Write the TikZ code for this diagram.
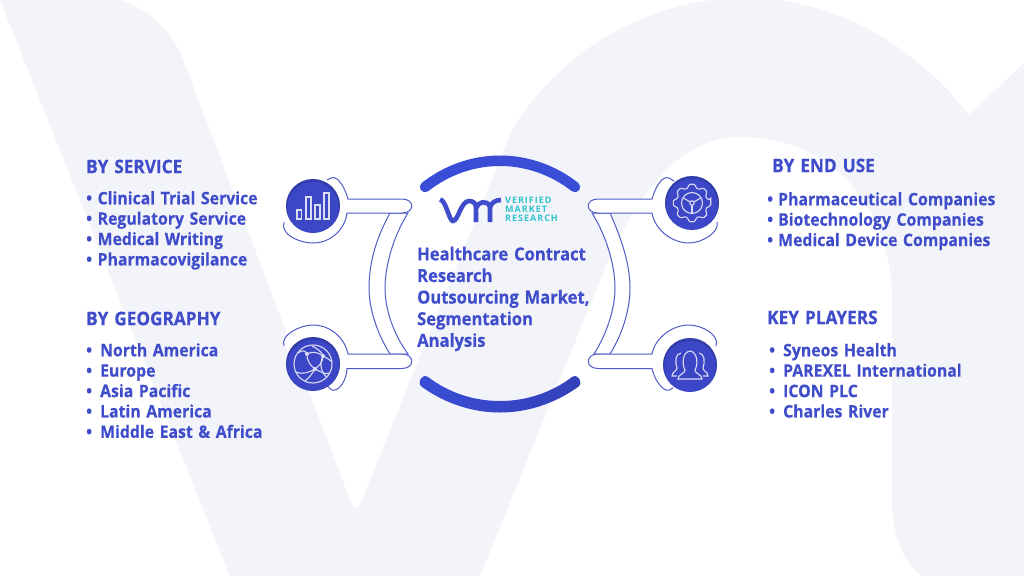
\documentclass[tikz,border=0pt]{standalone}
\usepackage{fontspec}
\setmainfont{Open Sans}[WordSpace=1.35,FakeStretch=0.92,BoldFeatures={FakeBold=0.4}]
\newfontfamily\logofont[LetterSpace=11]{Open Sans}
\usetikzlibrary{calc, positioning}
\definecolor{vmrblue}{HTML}{3F4DCB}
\definecolor{vmrcircle}{HTML}{3C47C8}
\definecolor{vmrarc}{HTML}{3A4DD6}
\definecolor{vmrarcdark}{HTML}{3240B8}
\definecolor{vmrline}{HTML}{4F5BC8}
\definecolor{vmrpale}{HTML}{F3F4FA}
\definecolor{vmrteal}{HTML}{2FC3CC}
\definecolor{vmricon}{HTML}{DADCF2}
\definecolor{vmrshadow}{HTML}{1F2870}
\tikzset{
	headtext/.style={anchor=west,inner sep=0pt,text=vmrblue,font=\fontsize{18.7}{20}\selectfont\bfseries},
	listtext/.style={anchor=north west,inner sep=0pt,align=left,text=vmrblue,font=\fontsize{17.2}{20.4}\selectfont\bfseries},
	titletext/.style={anchor=north west,inner sep=0pt,align=left,text=vmrblue,font=\fontsize{18}{21.6}\selectfont\bfseries},
	iconcircle/.style={circle,fill=vmrcircle,minimum size=54pt,inner sep=0pt},
	armline/.style={draw=vmrline,line width=1pt,fill=white},
	bigarc/.style={draw=vmrarc,line width=10.5pt,line cap=round},
	iconline/.style={draw=vmricon,line width=1.1pt},
	logoline/.style={draw=vmrblue,line width=4.6pt},
}
\newcommand{\bul}[1]{\textbullet\hspace{#1}}
\begin{document}
\begin{tikzpicture}[x=1pt,y=-1pt]
	\useasboundingbox (0,0) rectangle (1024,576);
	\fill[white] (0,0) rectangle (1024,576);
	%背景
	\fill[vmrpale] (0,0)--(120,0) .. controls (150,10) and (170,30) .. (182,57)--(350,500) .. controls (354,511) and (358,511) .. (362,500)--(512,130) .. controls (560,50) and (650,-2) .. (745,-2) .. controls (830,-2) and (910,40) .. (969,115)--(1024,63)--(1024,576)--(922,576) .. controls (900,560) and (892,530) .. (892,500)--(892,290) .. controls (885,190) and (820,137) .. (739,137) .. controls (670,137) and (625,215) .. (597,288)--(480,576)--(230,576)--cycle;
	%上下の弧
	\coordinate (arcTa) at (425,187);
	\coordinate (arcTb) at (575,187);
	\draw[bigarc] (arcTa) .. controls (470,152) and (530,152) .. (arcTb);
	\shade[left color=vmrarc,middle color=vmrarc!70!vmrarcdark,right color=vmrarcdark] (422,387) .. controls (470,421) and (530,421) .. (578,387) .. controls (584,383) and (578,373) .. (572,377) .. controls (530,409) and (470,409) .. (428,377) .. controls (422,373) and (416,383) .. (422,387)--cycle;
	%左右の支柱
	\draw[armline] (390,213) .. controls (375,240) and (369,265) .. (369,288) .. controls (369,310) and (378,335) .. (390,354)--(408,354) .. controls (394,335) and (385,310) .. (385,288) .. controls (385,265) and (394,235) .. (408,213)--cycle;
	\draw[armline] (592,213) .. controls (606,235) and (615,265) .. (615,288) .. controls (615,310) and (606,335) .. (594,354)--(610,354) .. controls (622,335) and (630,310) .. (630,288) .. controls (630,265) and (622,240) .. (610,213)--cycle;
	%腕
	\coordinate (armTL) at (402,199);
	\coordinate (armTR) at (598,199);
	\coordinate (armBL) at (402,354);
	\coordinate (armBR) at (598,354);
	\draw[armline] (284,222) .. controls (280,235) and (300,243) .. (313,243) .. controls (330,243) and (345,230) .. (347,213)--(402,213) .. controls (415,213) and (415,199) .. (armTL)--(348,199) .. controls (345,188) and (338,175) .. (331,178)--(327,180);
	\draw[armline] (717,222) .. controls (720,232) and (702,243) .. (689,243) .. controls (672,243) and (655,230) .. (652,213)--(598,213) .. controls (585,213) and (585,199) .. (armTR)--(652,199) .. controls (655,188) and (662,175) .. (669,178)--(674,181);
	\draw[armline] (284,346) .. controls (280,335) and (300,325) .. (313,325) .. controls (330,325) and (345,338) .. (348,354)--(armBL) .. controls (415,354) and (415,368.5) .. (402,368.5)--(347,368.5) .. controls (347,378) and (340,392) .. (332,390)--(327,386);
	\draw[armline] (716,346) .. controls (720,335) and (702,325) .. (689,325) .. controls (672,325) and (655,338) .. (652,354)--(armBR) .. controls (585,354) and (585,368.5) .. (598,368.5)--(652,368.5) .. controls (654,378) and (662,392) .. (669,390)--(673,388);
	%アイコンの円
	\node[iconcircle] (chart) at (313,206) {};
	\node[iconcircle] (globe) at (313,364) {};
	\node[iconcircle] (gear) at (692,203) {};
	\node[iconcircle] (people) at (690,365) {};
	\foreach \n in {chart,globe,gear,people}{
		\begin{scope}
			\clip (\n.center) circle (27);
			\draw[vmrshadow,opacity=.35,line width=2.4pt] ($(\n.center)+(0,1.4)$) circle (27);
		\end{scope}
	}
	%棒グラフ
	\draw[iconline] (297,219) rectangle (301.5,210);
	\draw[iconline] (306,219) rectangle (311,197);
	\draw[iconline] (315,219) rectangle (320,205);
	\draw[iconline] (324,219) rectangle (329,193);
	%地球
	\draw[iconline] (globe.center) circle (19);
	\draw[iconline] (298,353) .. controls (302,350) and (305,350) .. (307,354) .. controls (307,362) and (311,366) .. (315,369) .. controls (321,372) and (326,375) .. (329,373);
	\draw[iconline] (296,372) .. controls (303,375) and (310,372) .. (315,369) .. controls (320,365) and (323,362) .. (323,356) .. controls (322,352) and (318,349) .. (312,346);
	\draw[iconline] (307,354) .. controls (312,351) and (318,352) .. (323,356) .. controls (327,358) and (330,360) .. (332,362);
	\draw[iconline] (323,356) .. controls (318,365) and (323,375) .. (327,377);
	\draw[iconline] (315,369) .. controls (312,374) and (308,379) .. (305,381);
	\foreach \dotx/\doty in {307/354, 323/356, 315/369}
		\fill[vmricon] (\dotx,\doty) circle (2);
	%歯車
	\begin{scope}[shift={(692,203)}]
		\draw[iconline,rounded corners=1.5pt] (-10:19) foreach \a in {0,45,...,315} {--(\a-10:19)--(\a+10:19)--(\a+14:15.5)--(\a+31:15.5)}--cycle;
		\draw[iconline] (0,0) circle (10.5);
		\draw[iconline] (0,0) circle (2.2);
		\foreach \a in {90,210,330}
			\draw[iconline] (\a:2.2)--(\a:10.5);
	\end{scope}
	%人物
	\begin{scope}[shift={(690,365)}]
		\draw[iconline] (-12,14) .. controls (-12,9) and (-5,9) .. (-5,5) .. controls (-8,0) and (-8,-13) .. (0,-14) .. controls (8,-13) and (8,0) .. (5,5) .. controls (5,9) and (12,9) .. (12,14)--cycle;
		\draw[iconline] (-13,11)--(-18,11) .. controls (-18,7) and (-13,6) .. (-13,3) .. controls (-15,-3) and (-15,-11) .. (-9,-12);
		\draw[iconline] (13,11)--(18,11) .. controls (18,7) and (13,6) .. (13,3) .. controls (15,-3) and (15,-11) .. (9,-12);
	\end{scope}
	%ロゴ
	\draw[logoline] (440,199.5) .. controls (446,200) and (449,221) .. (453,221) .. controls (458,221) and (461,201) .. (469,201) .. controls (473,201) and (476,203) .. (476,208)--(476,222);
	\draw[logoline] (476,208) .. controls (478,202) and (487,199) .. (490,207)--(490,222);
	\draw[logoline] (490,207) .. controls (492,202) and (496,200) .. (501,200);
	\node[anchor=north west,inner sep=0pt,align=left,text=vmrteal,font=\fontsize{9}{9.4}\selectfont\logofont\bfseries] (logotext) at (505,196.5) {VERIFIED\\MARKET\\RESEARCH};
	%題名
	\node[titletext] (title) at (417,246.5) {Healthcare Contract\\Research\\Outsourcing Market,\\Segmentation\\Analysis};
	%左の一覧
	\node[headtext] (service) at (86,166.5) {BY SERVICE};
	\node[listtext] (servicelist) at (86,191) {\bul{5.5pt}Clinical Trial Service\\\bul{5.5pt}Regulatory Service\\\bul{5.5pt}Medical Writing\\\bul{5.5pt}Pharmacovigilance};
	\node[headtext] (geography) at (86,318.5) {BY GEOGRAPHY};
	\node[listtext] (geographylist) at (86,343) {\bul{8pt}North America\\\bul{8pt}Europe\\\bul{8pt}Asia Pacific\\\bul{8pt}Latin America\\\bul{8pt}Middle East \& Africa};
	%右の一覧
	\node[headtext] (enduse) at (772,165.5) {BY END USE};
	\node[listtext] (enduselist) at (767,192) {\bul{5pt}Pharmaceutical Companies\\\bul{5pt}Biotechnology Companies\\\bul{5pt}Medical Device Companies};
	\node[headtext] (players) at (767,317.5) {KEY PLAYERS};
	\node[listtext] (playerslist) at (769,343) {\bul{8pt}Syneos Health\\\bul{8pt}PAREXEL International\\\bul{8pt}ICON PLC\\\bul{8pt}Charles River};
\end{tikzpicture}
\end{document}
